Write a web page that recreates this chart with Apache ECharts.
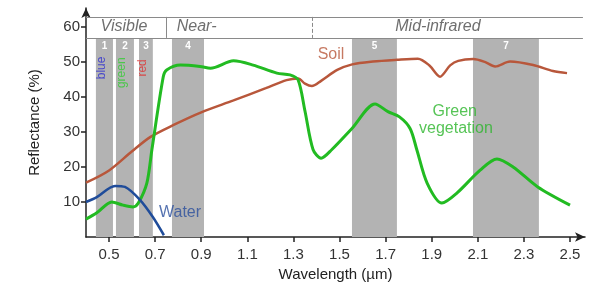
<!DOCTYPE html>
<html>
<head>
<meta charset="utf-8">
<script src="https://cdn.jsdelivr.net/npm/echarts@6/dist/echarts.min.js"></script>
<style>
  html, body { margin: 0; background: #fff; }
  #chart { width: 599px; height: 294px; }
</style>
</head>
<body>
<div id="chart"></div>
<script>
// wavelength (µm) / reflectance (%)
const soilX = [0.4, 0.5, 0.6, 0.68, 0.78, 0.9, 1.04, 1.18, 1.27, 1.32, 1.35, 1.38, 1.42, 1.49, 1.555, 1.645, 1.75, 1.84, 1.89, 1.936, 1.98, 2.015, 2.08, 2.13, 2.175, 2.24, 2.34, 2.426, 2.487]
const soilY = [15.5, 19, 24.5, 28.6, 32, 35.6, 39, 42.5, 44.8, 45.3, 43.8, 43.1, 44.6, 47.7, 49.3, 50.1, 50.6, 50.9, 49, 45.8, 49, 50.3, 50.8, 50, 48.7, 50.1, 49.1, 47.4, 46.8]

const vegX = [0.4, 0.447, 0.512, 0.56, 0.604, 0.627, 0.664, 0.686, 0.735, 0.75, 0.81, 0.895, 0.94, 1.04, 1.125, 1.228, 1.285, 1.32, 1.35, 1.385, 1.42, 1.467, 1.554, 1.654, 1.71, 1.76, 1.806, 1.835, 1.88, 1.944, 2.01, 2.11, 2.183, 2.253, 2.36, 2.5]
const vegY = [5.1, 6.9, 10, 9.1, 8.6, 9.7, 15.4, 25, 45.7, 47.7, 49.1, 48.7, 48.2, 50.3, 49.1, 46.8, 46.3, 44.9, 36, 25, 22.5, 25, 31, 38, 35.8, 34.3, 31, 25, 15.4, 9.7, 12.6, 19.1, 22.3, 20, 14.3, 9.1]

const waterX = [0.4, 0.447, 0.526, 0.569, 0.634, 0.69, 0.738]
const waterY = [10, 11.4, 14.6, 14.3, 10.6, 5.7, 0.5]

// Landsat TM bands [label, from, to]
const bands = [['1', 0.443, 0.517], ['2', 0.53, 0.608], ['3', 0.63, 0.69], ['4', 0.773, 0.912], ['5', 1.554, 1.749], ['7', 2.079, 2.365]]
const bandNames = [['blue', 0.47, 48.3, '#2a2ad0'], ['green', 0.556, 46.9, '#33cc33'], ['red', 0.647, 48.3, '#e03030']]

const xTicks = [0.5, 0.7, 0.9, 1.1, 1.3, 1.5, 1.7, 1.9, 2.1, 2.3, 2.5]
const yTicks = [10, 20, 30, 40, 50, 60]

// spectral regions header
const regions = [['Visible', 0.565], ['Near-', 0.88], ['Mid-infrared', 1.927]]
const headerTop = 62.86
const headerBottom = 56.86
const headerRight = 2.556
const dividers = [0.747, 1.38]

const curveNames = [['Soil', 1.463, 52, '#b8573b'], ['Water', 0.808, 7.1, '#2b4f9c'], ['Green', 2.0, 35.7, '#2cb52c'], ['vegetation', 2.005, 30.9, '#2cb52c']]

const zip = (xs, ys) => xs.map((x, i) => [x, ys[i]])

const chart = echarts.init(document.getElementById('chart'))

const axisCommon = {
  axisLine: { show: true, symbol: ['none', 'arrow'], symbolSize: [7, 10], lineStyle: { color: '#222', width: 1.5 } },
  axisTick: { show: true, length: 5, lineStyle: { color: '#222', width: 1.5 } },
  axisLabel: { fontSize: 15, color: '#333', fontFamily: 'Liberation Sans, Arial' },
  splitLine: { show: false },
  nameTextStyle: { fontSize: 15, color: '#222', fontFamily: 'Liberation Sans, Arial' }
}

chart.setOption({
  animation: false,
  grid: { left: 86, right: 14, top: 8, bottom: 57 },
  xAxis: {
    ...axisCommon,
    type: 'value',
    min: 0.4,
    max: 2.565,
    name: 'Wavelength (µm)',
    nameLocation: 'middle',
    nameGap: 30,
    axisTick: { ...axisCommon.axisTick, customValues: xTicks },
    axisLabel: { ...axisCommon.axisLabel, customValues: xTicks, margin: 10, formatter: v => v.toFixed(1) }
  },
  yAxis: {
    ...axisCommon,
    type: 'value',
    min: 0,
    max: 65.4,
    name: 'Reflectance (%)',
    nameLocation: 'middle',
    nameGap: 44,
    axisTick: { ...axisCommon.axisTick, customValues: yTicks },
    axisLabel: { ...axisCommon.axisLabel, customValues: yTicks, margin: 6 }
  },
  series: [
    {
      name: 'Soil',
      type: 'line',
      smooth: 0.3,
      showSymbol: false,
      data: zip(soilX, soilY),
      lineStyle: { color: '#b8573b', width: 2.5 },
      z: 3,
      markArea: {
        silent: true,
        itemStyle: { color: '#b3b3b3' },
        label: { position: 'insideTop', color: '#fff', fontSize: 10, fontWeight: 'bold', distance: 3 },
        data: bands.map(b => [{ name: b[0], coord: [b[1], 0] }, { coord: [b[2], headerBottom] }])
      },
      markLine: {
        silent: true,
        symbol: 'none',
        label: { show: false },
        lineStyle: { color: '#8a8a8a', width: 1, type: 'solid' },
        data: [
          [{ coord: [0.4, headerTop] }, { coord: [headerRight, headerTop] }],
          [{ coord: [0.4, headerBottom] }, { coord: [headerRight, headerBottom] }],
          [{ coord: [dividers[0], headerTop] }, { coord: [dividers[0], headerBottom] }],
          [{ coord: [dividers[1], headerTop] }, { coord: [dividers[1], headerBottom], lineStyle: { type: 'dashed' } }]
        ]
      }
    },
    {
      name: 'Green vegetation',
      type: 'line',
      smooth: 0.3,
      showSymbol: false,
      data: zip(vegX, vegY),
      lineStyle: { color: '#22bb22', width: 3 },
      z: 4
    },
    {
      name: 'Water',
      type: 'line',
      smooth: 0.3,
      showSymbol: false,
      data: zip(waterX, waterY),
      lineStyle: { color: '#1f4c9a', width: 2.5 },
      z: 5
    },
    {
      name: 'labels',
      type: 'scatter',
      symbolSize: 0,
      silent: true,
      z: 6,
      label: { show: true, position: 'inside', fontFamily: 'Liberation Sans, Arial' },
      data: [
        ...regions.map(r => ({
          value: [r[1], 60],
          label: { formatter: r[0], fontSize: 16, fontStyle: 'italic', color: '#4a4a4a' }
        })),
        ...bandNames.map(b => ({
          value: [b[1], b[2]],
          label: { formatter: b[0], fontSize: 12, color: b[3], rotate: 90 }
        })),
        ...curveNames.map(c => ({
          value: [c[1], c[2]],
          label: { formatter: c[0], fontSize: 16, color: c[3] }
        }))
      ]
    }
  ]
})
</script>
</body>
</html>
